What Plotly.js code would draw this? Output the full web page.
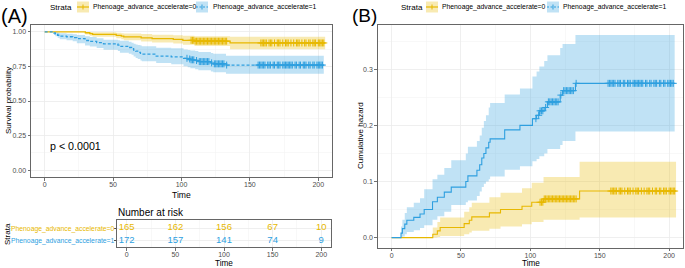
<!DOCTYPE html>
<html><head><meta charset="utf-8">
<script src="https://cdn.plot.ly/plotly-3.0.1.min.js"></script>
<style>html,body{margin:0;padding:0;background:#fff}#chart{width:685px;height:268px}</style>
</head><body><div id="chart"></div>
<script>
// ---------- DATA ----------
const groupNames = ["Phenoage_advance_accelerate=0", "Phenoage_advance_accelerate=1"];

// Group 0 (yellow): event times, cumulative hazard + CI, survival + CI
const time0   = [0, 29.7, 33, 35, 52.3, 56, 57.8, 70.5, 78.5, 94, 101, 109.5, 135.5];
const haz0    = [0, 0.006, 0.012, 0.018, 0.025, 0.031, 0.037, 0.044, 0.050, 0.056, 0.063, 0.069, 0.083];
const hazLo0  = [0, 0.000, 0.001, 0.003, 0.006, 0.009, 0.012, 0.016, 0.020, 0.024, 0.028, 0.032, 0.036];
const hazHi0  = [0, 0.018, 0.028, 0.036, 0.046, 0.054, 0.062, 0.072, 0.080, 0.088, 0.098, 0.108, 0.135];
const surv0   = [1, 0.994, 0.988, 0.982, 0.975, 0.969, 0.964, 0.957, 0.951, 0.946, 0.939, 0.933, 0.920];
const survLo0 = [1, 0.982, 0.972, 0.965, 0.955, 0.947, 0.940, 0.931, 0.923, 0.916, 0.907, 0.898, 0.874];
const survHi0 = [1, 1.000, 0.999, 0.997, 0.994, 0.991, 0.988, 0.984, 0.980, 0.976, 0.972, 0.969, 0.965];
const censor0 = [107,108,109,110,111,112,113,114,115,116,117,118,119,120,121,122,123,124,125,126,127,128,129,130,131,132,133,
                 158,159,160,161,162,164,165,166,168,170,171,172,174,176,177,178,180,182,184,185,186,188,190,191,193,194,196,197,198,200,201,202,203,204];
const end0 = 205;

// Group 1 (blue)
const time1   = [0, 6.8, 7.8, 9.5, 11, 16, 20.5, 23.5, 29.5, 33, 38, 43, 53.5, 55, 61.5, 63.5, 65, 66.5, 68, 70, 71, 81.5, 92.5, 101.5, 104.5, 106.5, 110, 112.3, 121.5, 123.2, 132.5];
const haz1    = [0, 0.008, 0.016, 0.024, 0.031, 0.036, 0.042, 0.050, 0.064, 0.072, 0.081, 0.090, 0.100, 0.110, 0.120, 0.130, 0.142, 0.150, 0.160, 0.170, 0.176, 0.192, 0.200, 0.212, 0.218, 0.226, 0.232, 0.242, 0.254, 0.262, 0.275];
const hazLo1  = [0, 0.000, 0.002, 0.006, 0.010, 0.013, 0.017, 0.022, 0.032, 0.038, 0.046, 0.058, 0.063, 0.066, 0.074, 0.082, 0.090, 0.096, 0.100, 0.104, 0.109, 0.121, 0.127, 0.136, 0.140, 0.145, 0.150, 0.158, 0.165, 0.172, 0.189];
const hazHi1  = [0, 0.020, 0.032, 0.044, 0.054, 0.062, 0.070, 0.086, 0.104, 0.112, 0.124, 0.138, 0.150, 0.162, 0.172, 0.182, 0.196, 0.208, 0.218, 0.232, 0.240, 0.255, 0.266, 0.287, 0.296, 0.305, 0.315, 0.325, 0.338, 0.345, 0.361];
const surv1   = [1, 0.992, 0.984, 0.976, 0.969, 0.965, 0.959, 0.951, 0.938, 0.931, 0.922, 0.914, 0.905, 0.896, 0.887, 0.878, 0.868, 0.861, 0.852, 0.844, 0.839, 0.825, 0.819, 0.809, 0.804, 0.798, 0.793, 0.785, 0.776, 0.769, 0.760];
const survLo1 = [1, 0.980, 0.969, 0.957, 0.947, 0.940, 0.932, 0.918, 0.901, 0.894, 0.883, 0.871, 0.861, 0.850, 0.842, 0.834, 0.822, 0.812, 0.804, 0.793, 0.787, 0.775, 0.766, 0.751, 0.744, 0.737, 0.730, 0.723, 0.713, 0.708, 0.697];
const survHi1 = [1, 1.000, 0.998, 0.994, 0.990, 0.987, 0.983, 0.978, 0.969, 0.963, 0.955, 0.944, 0.939, 0.936, 0.929, 0.921, 0.914, 0.908, 0.905, 0.901, 0.897, 0.886, 0.881, 0.873, 0.869, 0.865, 0.861, 0.854, 0.848, 0.842, 0.828];
const censor1 = [104,106,107,108,109,111,113,114,115,116,117,118,119,120,122,124,125,126,127,128,129,130,131,133,
                 156,157,158,159,160,161,163,164,165,167,168,170,171,172,174,175,176,177,178,179,180,181,183,184,186,187,189,190,191,193,194,196,197,199,200,201,202,203];
const end1 = 204;

// Number at risk table
const riskTimes = [0, 50, 100, 150, 200];
const risk0 = [165, 162, 156, 67, 10];
const risk1 = [172, 157, 141, 74, 9];
const pText = "p < 0.0001";

// ---------- STYLE ----------
const W = 685, H = 268;
const FONT = "Liberation Sans, Arial, sans-serif";
const colors = ["#E7B800", "#2E9FDF"];
const bands = ["rgba(231,184,0,0.3)", "rgba(46,159,223,0.3)"];
const px = x => x / W;
const py = y => 1 - y / H;

function stepAt(times, vals, t) {
  let v = vals[0];
  for (let i = 0; i < times.length; i++) if (times[i] <= t) v = vals[i];
  return v;
}
function ext(times, vals, tEnd) {
  return { x: times.concat([tEnd]), y: vals.concat([vals[vals.length - 1]]) };
}
function bandTraces(times, lo, hi, tEnd, fill, xa, ya) {
  const a = ext(times, lo, tEnd), b = ext(times, hi, tEnd);
  return [
    { type: "scatter", mode: "lines", x: a.x, y: a.y, xaxis: xa, yaxis: ya, line: { width: 0, shape: "hv" }, hoverinfo: "skip" },
    { type: "scatter", mode: "lines", x: b.x, y: b.y, xaxis: xa, yaxis: ya, line: { width: 0, shape: "hv" }, fill: "tonexty", fillcolor: fill, hoverinfo: "skip" }
  ];
}
function lineTrace(times, vals, tEnd, color, dash, width, xa, ya) {
  const a = ext(times, vals, tEnd);
  return { type: "scatter", mode: "lines", x: a.x, y: a.y, xaxis: xa, yaxis: ya, line: { color: color, width: width, shape: "hv", dash: dash } };
}
function censorTrace(ctimes, times, vals, color, xa, ya) {
  return { type: "scatter", mode: "markers", x: ctimes, y: ctimes.map(t => stepAt(times, vals, t)), xaxis: xa, yaxis: ya,
           marker: { symbol: "cross-thin-open", size: 5, color: color, line: { color: color, width: 1 } } };
}

const traces = [];
// Panel A: survival
traces.push(...bandTraces(time0, survLo0, survHi0, end0, bands[0], "x", "y"));
traces.push(...bandTraces(time1, survLo1, survHi1, end1, bands[1], "x", "y"));
traces.push(lineTrace(time0, surv0, end0, colors[0], "solid", 1.3, "x", "y"));
traces.push(lineTrace(time1, surv1, end1, colors[1], "3px,2px", 1.3, "x", "y"));
traces.push(censorTrace(censor0, time0, surv0, colors[0], "x", "y"));
traces.push(censorTrace(censor1, time1, surv1, colors[1], "x", "y"));
// Panel B: cumulative hazard
traces.push(...bandTraces(time0, hazLo0, hazHi0, end0, bands[0], "x3", "y3"));
traces.push(...bandTraces(time1, hazLo1, hazHi1, end1, bands[1], "x3", "y3"));
traces.push(lineTrace(time0, haz0, end0, colors[0], "solid", 1.1, "x3", "y3"));
traces.push(lineTrace(time1, haz1, end1, colors[1], "solid", 1.1, "x3", "y3"));
traces.push(censorTrace(censor0, time0, haz0, colors[0], "x3", "y3"));
traces.push(censorTrace(censor1, time1, haz1, colors[1], "x3", "y3"));
// Risk table
traces.push({ type: "scatter", mode: "text", x: riskTimes, y: riskTimes.map(() => 2), text: risk0.map(String), xaxis: "x2", yaxis: "y2",
              textfont: { family: FONT, size: 9.5, color: colors[0] }, cliponaxis: false });
traces.push({ type: "scatter", mode: "text", x: riskTimes, y: riskTimes.map(() => 1), text: risk1.map(String), xaxis: "x2", yaxis: "y2",
              textfont: { family: FONT, size: 9.5, color: colors[1] }, cliponaxis: false });

const gridMajor = "#EBEBEB", gridMinor = "#F4F4F4", frame = "#666666";
const tickFont = { family: FONT, size: 7, color: "#4D4D4D" };
function xAxis(domain, anchor) {
  return { domain: domain, anchor: anchor, range: [-10, 210], tick0: 0, dtick: 50, showline: true, mirror: true, linecolor: frame, linewidth: 1,
           ticks: "outside", ticklen: 2.5, tickcolor: "#4D4D4D", tickwidth: 0.8, tickfont: tickFont, ticklabelstandoff: -2,
           showgrid: true, gridcolor: gridMajor, gridwidth: 0.8,
           zeroline: false, minor: { dtick: 25, showgrid: true, gridcolor: gridMinor, gridwidth: 0.6 }, fixedrange: true };
}

const layout = {
  width: W, height: H, margin: { l: 0, r: 0, t: 0, b: 0 }, paper_bgcolor: "#fff", plot_bgcolor: "#fff", showlegend: false,
  font: { family: FONT, color: "#000" },
  xaxis: xAxis([px(31), px(332)], "y"),
  yaxis: { domain: [py(177), py(25)], anchor: "x", range: [-0.05, 1.05], tick0: 0, dtick: 0.25, tickformat: ".2f", showline: true, mirror: true,
           linecolor: frame, linewidth: 1, ticks: "outside", ticklen: 2.5, tickcolor: "#4D4D4D", tickwidth: 0.8, tickfont: tickFont, showgrid: true,
           gridcolor: gridMajor, gridwidth: 0.8, zeroline: false, minor: { dtick: 0.125, showgrid: true, gridcolor: gridMinor, gridwidth: 0.6 }, fixedrange: true },
  xaxis2: xAxis([px(117), px(331)], "y2"),
  yaxis2: { domain: [py(247.3), py(220)], anchor: "x2", range: [0.45, 2.65], tickvals: [1, 2], showticklabels: false, showline: true, mirror: true,
            linecolor: frame, linewidth: 1, ticks: "outside", ticklen: 2, tickcolor: "#4D4D4D", showgrid: true, gridcolor: gridMajor, gridwidth: 0.8,
            zeroline: false, fixedrange: true },
  xaxis3: xAxis([px(377.7), px(683)], "y3"),
  yaxis3: { domain: [py(247.7), py(25)], anchor: "x3", range: [-0.018, 0.379], tick0: 0, dtick: 0.1, tickformat: ".1f", showline: true, mirror: true,
            linecolor: frame, linewidth: 1, ticks: "outside", ticklen: 2.5, tickcolor: "#4D4D4D", tickwidth: 0.8, tickfont: tickFont, showgrid: true,
            gridcolor: gridMajor, gridwidth: 0.8, zeroline: false, minor: { dtick: 0.05, showgrid: true, gridcolor: gridMinor, gridwidth: 0.6 }, fixedrange: true },
  annotations: [],
  shapes: []
};

function ann(text, x, y, opts) {
  layout.annotations.push(Object.assign({ text: text, x: px(x), y: py(y), xref: "paper", yref: "paper", showarrow: false,
    xanchor: "center", yanchor: "middle", font: { family: FONT, size: 8, color: "#000" }, borderpad: 0 }, opts || {}));
}
// Panel labels
ann("(A)", 0, 16, { xanchor: "left", font: { family: FONT, size: 20, color: "#000" } });
ann("(B)", 351, 16, { xanchor: "left", font: { family: FONT, size: 19, color: "#000" } });
// Axis titles
ann("Survival probability", 8, 101, { textangle: -90, font: { family: FONT, size: 8, color: "#000" } });
ann("Time", 181, 194.5, { font: { family: FONT, size: 8.6, color: "#000" } });
ann("Cumulative hazard", 360, 136, { textangle: -90, font: { family: FONT, size: 8, color: "#000" } });
ann("Time", 531, 263.5, { font: { family: FONT, size: 8.2, color: "#000" } });
ann(pText, 49, 146, { xanchor: "left", font: { family: FONT, size: 10.7, color: "#000" } });
// Risk table texts
ann("Number at risk", 117, 212, { xanchor: "left", font: { family: FONT, size: 10, color: "#000" } });
ann("Strata", 7, 234, { textangle: -90, font: { family: FONT, size: 8, color: "#000" } });
ann("Time", 224, 263, { font: { family: FONT, size: 8.2, color: "#000" } });
ann(groupNames[0], 116, 229, { xanchor: "right", font: { family: FONT, size: 6.8, color: colors[0] } });
ann(groupNames[1], 116, 241, { xanchor: "right", font: { family: FONT, size: 6.8, color: colors[1] } });

// Legends (drawn as keys + text)
function legend(titleX, keyX0, textX0, keyX1, textX1) {
  ann("Strata", titleX, 7, { xanchor: "left", font: { family: FONT, size: 8, color: "#000" } });
  const keys = [[keyX0, textX0, 0, "solid"], [keyX1, textX1, 1, "dash"]];
  keys.forEach(([kx, tx, g, dash]) => {
    layout.shapes.push({ type: "rect", xref: "paper", yref: "paper", x0: px(kx), x1: px(kx + 12), y0: py(12.5), y1: py(1.5), fillcolor: bands[g], line: { width: 0 } });
    layout.shapes.push({ type: "line", xref: "paper", yref: "paper", x0: px(kx), x1: px(kx + 12), y0: py(7), y1: py(7), line: { color: colors[g], width: 1.2, dash: dash === "dash" ? "2px,1.5px" : "solid" } });
    layout.shapes.push({ type: "line", xref: "paper", yref: "paper", x0: px(kx + 6), x1: px(kx + 6), y0: py(4.5), y1: py(9.5), line: { color: colors[g], width: 1 } });
    ann(groupNames[g], tx, 7, { xanchor: "left", font: { family: FONT, size: 6.8, color: "#000" } });
  });
}
legend(49, 77, 92, 196, 212);
legend(400, 426, 441, 547, 562);

Plotly.newPlot("chart", traces, layout, { displayModeBar: false, staticPlot: true });
</script>
</body></html>
